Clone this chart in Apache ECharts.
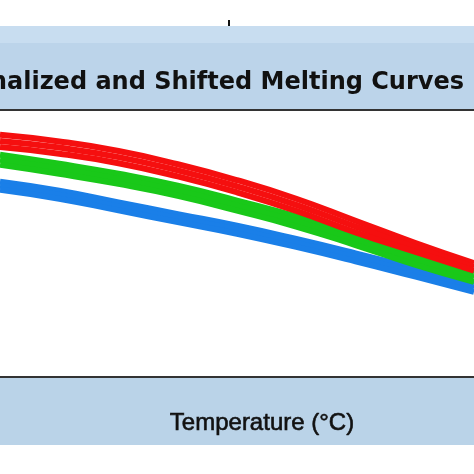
<!DOCTYPE html>
<html lang="en">
<head>
    <meta charset="UTF-8">
    <title>Melting Curves</title>
    <script src="https://cdn.jsdelivr.net/npm/echarts@6/dist/echarts.min.js"></script>
</head>
<body style="margin: 0">
<div id="main" style="width: 474px;height: 474px"></div>
<script>
    // temperature steps (deg C) and normalized fluorescence for each replicate
    const temps = [80, 81, 82, 83, 84, 85, 86, 87, 88];

    const red1 = [91.0, 88.5, 84.9, 79.9, 73.9, 66.9, 58.6, 50.3, 42.6];
    const red2 = [88.7, 86.2, 82.6, 77.6, 71.6, 64.6, 56.4, 48.6, 41.2];
    const red3 = [86.4, 83.9, 80.3, 75.3, 69.3, 62.3, 54.2, 46.9, 39.8];

    const green1 = [83.5, 80.1, 76.3, 71.8, 66.2, 60.2, 53.2, 45.8, 38.9];
    const green2 = [81.6, 78.2, 74.4, 69.9, 64.3, 58.3, 51.3, 43.9, 37.2];
    const green3 = [79.7, 76.3, 72.5, 68.0, 62.4, 56.4, 49.4, 42.0, 35.5];

    const blue1 = [73.3, 69.9, 65.5, 61.1, 56.7, 51.7, 46.3, 40.6, 34.8];
    const blue2 = [71.8, 68.4, 64.0, 59.6, 55.2, 50.2, 44.8, 39.1, 33.3];
    const blue3 = [70.3, 66.9, 62.5, 58.1, 53.7, 48.7, 43.3, 37.6, 31.8];

    const chartDom = document.getElementById('main');
    const myChart = echarts.init(chartDom);

    function curve(values, color, width) {
        return {
            type: 'line',
            smooth: true,
            symbol: 'none',
            silent: true,
            lineStyle: {color: color, width: width},
            data: temps.map((t, i) => [t, values[i]])
        };
    }

    let option = {
        animation: false,
        backgroundColor: '#ffffff',
        title: {
            text: 'Normalized and Shifted Melting Curves',
            right: 10,
            top: 71,
            padding: 0,
            textStyle: {
                fontFamily: 'DejaVu Sans',
                fontWeight: 'bold',
                fontSize: 24,
                color: '#111111'
            }
        },
        graphic: [
            {type: 'rect', z: -10, shape: {x: 0, y: 26, width: 474, height: 18}, style: {fill: '#c8ddf0'}},
            {type: 'rect', z: -10, shape: {x: 0, y: 43, width: 474, height: 66}, style: {fill: '#bcd4ea'}},
            {type: 'rect', z: -10, shape: {x: 0, y: 109, width: 474, height: 2}, style: {fill: '#333333'}},
            {type: 'rect', z: -10, shape: {x: 0, y: 376, width: 474, height: 2}, style: {fill: '#333333'}},
            {type: 'rect', z: -10, shape: {x: 0, y: 378, width: 474, height: 67}, style: {fill: '#bad3e8'}},
            {type: 'rect', z: -10, shape: {x: 228, y: 20, width: 2, height: 6}, style: {fill: '#111111'}},
            {
                type: 'text', x: 262, y: 423,
                style: {
                    text: 'Temperature (°C)',
                    fill: '#111111',
                    stroke: '#111111',
                    lineWidth: 0.6,
                    font: '24px "Liberation Sans"',
                    align: 'center',
                    verticalAlign: 'middle'
                }
            }
        ],
        grid: {left: 0, right: 0, top: 111, bottom: 98},
        xAxis: {type: 'value', min: 80, max: 88, show: false},
        yAxis: {type: 'value', min: 0, max: 100, show: false},
        series: [
            curve(blue1, '#1a7fe8', 6), curve(blue2, '#1a7fe8', 6), curve(blue3, '#1a7fe8', 6),
            curve(green1, '#19c819', 6), curve(green2, '#19c819', 6), curve(green3, '#19c819', 6),
            curve(red1, '#f50f0f', 6), curve(red2, '#f50f0f', 6), curve(red3, '#f50f0f', 6)
        ]
    };

    option && myChart.setOption(option);
</script>
</body>
</html>
